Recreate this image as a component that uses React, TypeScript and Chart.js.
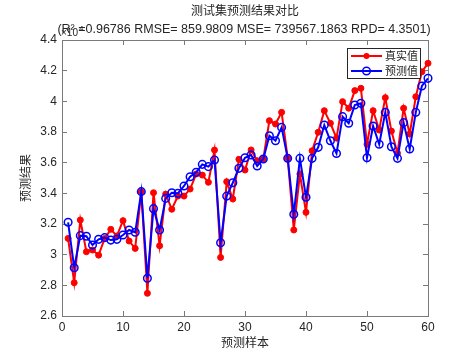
import React, { useEffect, useRef } from "react";
import { Chart, registerables } from "chart.js";

Chart.register(...registerables);

const titleText = "测试集预测结果对比";
const subtitleText = "(R² =0.96786 RMSE= 859.9809 MSE= 739567.1863 RPD= 4.3501)";
const xAxisTitle = "预测样本";
const yAxisTitle = "预测结果";
const seriesNames = ["真实值", "预测值"];

const sampleIndex = [
  1, 2, 3, 4, 5, 6, 7, 8, 9, 10, 11, 12, 13, 14, 15, 16, 17, 18, 19, 20,
  21, 22, 23, 24, 25, 26, 27, 28, 29, 30, 31, 32, 33, 34, 35, 36, 37, 38, 39, 40,
  41, 42, 43, 44, 45, 46, 47, 48, 49, 50, 51, 52, 53, 54, 55, 56, 57, 58, 59, 60,
];

const actualValues = [
  3.106, 2.817, 3.226, 3.019, 3.03, 2.997, 3.106, 3.165, 3.122, 3.222,
  3.089, 3.041, 3.41, 2.748, 3.404, 3.058, 3.395, 3.296, 3.382, 3.382,
  3.428, 3.526, 3.519, 3.472, 3.682, 2.982, 3.476, 3.363, 3.622, 3.552,
  3.683, 3.613, 3.624, 3.874, 3.852, 3.928, 3.63, 3.161, 3.526, 3.276,
  3.678, 3.798, 3.939, 3.857, 3.76, 3.998, 3.955, 4.07, 4.085, 3.72,
  3.939, 3.813, 4.024, 3.806, 3.661, 3.955, 3.787, 4.03, 4.193, 4.248,
];

const predictedValues = [
  3.211, 2.915, 3.124, 3.12, 3.063, 3.1, 3.111, 3.095, 3.1, 3.128,
  3.161, 3.146, 3.411, 2.846, 3.3, 3.161, 3.367, 3.404, 3.4, 3.448,
  3.508, 3.537, 3.589, 3.574, 3.617, 3.078, 3.382, 3.469, 3.563, 3.632,
  3.65, 3.578, 3.624, 3.776, 3.743, 3.83, 3.628, 3.263, 3.628, 3.374,
  3.628, 3.7, 3.845, 3.743, 3.66, 3.9, 3.857, 3.976, 3.987, 3.632,
  3.839, 3.72, 3.928, 3.704, 3.628, 3.861, 3.689, 3.928, 4.1, 4.15,
];

const X_MIN = 0;
const X_MAX = 60;
const X_STEP = 10;
const Y_MIN = 2.6;
const Y_MAX = 4.4;
const Y_STEP = 0.2;

const AXIS_COLOR = "#7a7a7a";
const TEXT_COLOR = "#262626";
const NUM_FONT = "'Liberation Sans', Arial, sans-serif";
const CJK_FONT = "'Noto Sans CJK SC', 'Noto Sans', sans-serif";

const decorPlugin = {
  id: "decor",
  afterDraw(chart: any) {
    const ctx = chart.ctx;
    const area = chart.chartArea;
    const cx = (area.left + area.right) / 2;
    ctx.save();
    ctx.fillStyle = TEXT_COLOR;
    ctx.textAlign = "center";
    ctx.textBaseline = "middle";
    ctx.font = `12px ${CJK_FONT}`;
    ctx.fillText(titleText, cx, 10);
    ctx.font = `12.5px ${NUM_FONT}`;
    ctx.fillText(subtitleText, cx - 1, 30);

    // exponent label of the y axis (x10^4)
    ctx.textAlign = "left";
    ctx.textBaseline = "alphabetic";
    ctx.font = `10px ${NUM_FONT}`;
    ctx.fillText("×10", area.left - 1, 36);
    ctx.font = `8px ${NUM_FONT}`;
    ctx.fillText("4", area.left + 17, 31);

    // legend
    const bx = 347, by = 48, bw = 73, bh = 30;
    ctx.fillStyle = "#ffffff";
    ctx.fillRect(bx, by, bw, bh);
    ctx.strokeStyle = "#262626";
    ctx.lineWidth = 1;
    ctx.strokeRect(bx + 0.5, by + 0.5, bw, bh);
    const rows = [
      { y: 56, color: "#ff0000", filled: true },
      { y: 71, color: "#0000ff", filled: false },
    ];
    rows.forEach((r, i) => {
      ctx.strokeStyle = r.color;
      ctx.lineWidth = 2;
      ctx.beginPath();
      ctx.moveTo(351, r.y);
      ctx.lineTo(382, r.y);
      ctx.stroke();
      ctx.beginPath();
      if (r.filled) {
        ctx.fillStyle = r.color;
        ctx.arc(366.5, r.y, 3, 0, Math.PI * 2);
        ctx.fill();
      } else {
        ctx.lineWidth = 1.5;
        ctx.arc(366.5, r.y, 3.8, 0, Math.PI * 2);
        ctx.stroke();
      }
      ctx.fillStyle = TEXT_COLOR;
      ctx.font = `11px ${CJK_FONT}`;
      ctx.textAlign = "left";
      ctx.textBaseline = "middle";
      ctx.fillText(seriesNames[i], 385, r.y);
    });
    ctx.restore();
  },
};

export default function App() {
  const canvasRef = useRef<HTMLCanvasElement | null>(null);

  useEffect(() => {
    document.body.style.margin = "0";
    const canvas = canvasRef.current;
    if (!canvas) return;

    const actualPoints = sampleIndex.map((x, i) => ({ x, y: actualValues[i] }));
    const predictedPoints = sampleIndex.map((x, i) => ({ x, y: predictedValues[i] }));

    const tickFont = { family: NUM_FONT, size: 12 };
    const gridCommon = {
      display: true,
      drawOnChartArea: false,
      drawTicks: true,
      tickLength: -5,
      color: AXIS_COLOR,
      lineWidth: 1,
    };
    const borderCommon = { display: true, color: AXIS_COLOR, width: 1 };

    const chart = new Chart(canvas, {
      type: "line",
      data: {
        datasets: [
          {
            label: seriesNames[0],
            data: actualPoints,
            borderColor: "#ff0000",
            backgroundColor: "#ff0000",
            borderWidth: 2,
            pointRadius: 3,
            pointBackgroundColor: "#ff0000",
            pointBorderColor: "#ff0000",
            pointBorderWidth: 1,
            tension: 0,
            clip: false,
            order: 1,
          },
          {
            label: seriesNames[1],
            data: predictedPoints,
            borderColor: "#0000ff",
            backgroundColor: "rgba(0,0,0,0)",
            borderWidth: 2,
            pointRadius: 3.8,
            pointBackgroundColor: "rgba(0,0,0,0)",
            pointBorderColor: "#0000ff",
            pointBorderWidth: 1.5,
            tension: 0,
            clip: false,
            order: 0,
          },
        ],
      },
      options: {
        animation: false,
        responsive: false,
        maintainAspectRatio: false,
        layout: { padding: { top: 40, right: 46, left: 0, bottom: 0 } },
        plugins: {
          legend: { display: false },
          title: { display: false },
          tooltip: { enabled: false },
        },
        scales: {
          x: {
            type: "linear",
            position: "bottom",
            min: X_MIN,
            max: X_MAX,
            ticks: {
              stepSize: X_STEP,
              color: TEXT_COLOR,
              font: tickFont,
              padding: 9,
              maxRotation: 0,
            },
            grid: gridCommon,
            border: borderCommon,
            title: {
              display: true,
              text: xAxisTitle,
              color: TEXT_COLOR,
              font: { family: CJK_FONT, size: 12 },
              padding: { top: 0, bottom: 5 },
            },
            afterFit: (scale: any) => {
              scale.height = 39;
            },
          },
          x2: {
            type: "linear",
            position: "top",
            min: X_MIN,
            max: X_MAX,
            ticks: { stepSize: X_STEP, display: false },
            grid: gridCommon,
            border: borderCommon,
            afterFit: (scale: any) => {
              scale.height = 0;
            },
          },
          y: {
            type: "linear",
            position: "left",
            min: Y_MIN,
            max: Y_MAX,
            ticks: {
              stepSize: Y_STEP,
              color: TEXT_COLOR,
              font: tickFont,
              padding: 10,
              callback: (v: any) => String(Number(Number(v).toFixed(1))),
            },
            grid: gridCommon,
            border: borderCommon,
            title: {
              display: true,
              text: yAxisTitle,
              color: TEXT_COLOR,
              font: { family: CJK_FONT, size: 12 },
              padding: { top: 18, bottom: 0 },
            },
            afterFit: (scale: any) => {
              scale.width = 62;
            },
          },
          y2: {
            type: "linear",
            position: "right",
            min: Y_MIN,
            max: Y_MAX,
            ticks: { stepSize: Y_STEP, display: false },
            grid: gridCommon,
            border: borderCommon,
            afterFit: (scale: any) => {
              scale.width = 0;
            },
          },
        },
      } as any,
      plugins: [decorPlugin],
    });

    return () => {
      chart.destroy();
    };
  }, []);

  return (
    <div style={{ position: "fixed", left: 0, top: 0, width: 474, height: 355, background: "#ffffff" }}>
      <canvas ref={canvasRef} width={474} height={355} style={{ width: 474, height: 355 }} />
    </div>
  );
}
